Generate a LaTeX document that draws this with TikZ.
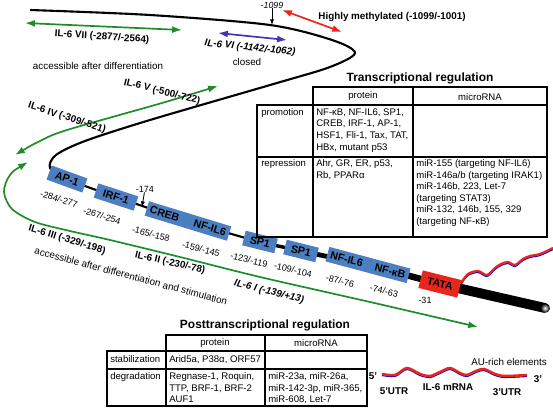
\documentclass[tikz,border=0pt]{standalone}
\usepackage{fontspec}
\setmainfont{Liberation Sans}
\usetikzlibrary{arrows.meta}
\definecolor{ilgreen}{RGB}{30,140,40}
\definecolor{ilred}{RGB}{232,38,30}
\definecolor{ilpurple}{RGB}{70,50,180}
\definecolor{ilblue}{RGB}{76,126,194}
\newdimen\pxu
\pxu=0.025cm

\begin{document}
\begin{tikzpicture}[x=0.025cm,y=-0.025cm,
	every node/.style={inner sep=0pt},
	siteb/.style={fill=ilblue,minimum height=15\pxu,font=\fontsize{7.6}{8}\selectfont\bfseries},
	posl/.style={font=\fontsize{6.4}{7}\selectfont},
	reg/.style={font=\fontsize{7}{8}\selectfont\bfseries},
	note/.style={font=\fontsize{7}{8}\selectfont},
	cell/.style={anchor=north west,align=left,font=\fontsize{6.8}{8.2}\selectfont},
	head/.style={font=\fontsize{6.8}{8.2}\selectfont},
	ttl/.style={font=\fontsize{8.5}{10}\selectfont\bfseries},
	tabline/.style={line width=0.85pt},
	twohead/.style={{Latex[length=7pt,width=5pt]}-{Latex[length=7pt,width=5pt]},line width=1.2pt}]
			\useasboundingbox (0,0) rectangle (553,408);
			\coordinate (ap1) at (67,179);
			\coordinate (irf1) at (116,197);
			\coordinate (creb) at (188,221);
			\coordinate (sp1a) at (260,242);
			\coordinate (sp1b) at (301,251);
			\coordinate (nf) at (368,265);
			\coordinate (tata) at (440,284);
			\coordinate (dnaend) at (545,308);
			\draw[line width=1.5pt] plot[smooth] coordinates {(30,10) (150,15) (270,25) (332,40) (355,53) (330,67) (277,83) (150,120) (85,141) (56,155) (50,168) (ap1) (irf1) (creb) (sp1a) (sp1b) (nf) (tata) (dnaend)};
			\draw[line width=2.4pt] (sp1a) -- (sp1b);
			\draw[line width=3.4pt] (sp1b) -- (nf);
			\draw[line width=4.6pt] (nf) -- (tata);
			\draw[line width=7pt,line cap=round] (tata) -- (dnaend);
			\shade[inner color=white,outer color=black] (dnaend) circle (4.5);
			\draw[blue!80!black,line width=0.8pt,shift={(0,1.5)}] plot[smooth] coordinates {(461,283) (468,274) (478,271) (487,275) (495,268) (501,264) (508,262) (515,265) (523,259) (530,256) (540,254) (553,248)};
			\draw[ilred,line width=1.6pt] plot[smooth] coordinates {(461,283) (468,274) (478,271) (487,275) (495,268) (501,264) (508,262) (515,265) (523,259) (530,256) (540,254) (553,248)};
			\node[siteb,minimum width=38\pxu,rotate=-20] (ap1b) at (ap1) {AP-1};
			\node[siteb,minimum width=42\pxu,rotate=-18] (irf1b) at (irf1) {IRF-1};
			\node[siteb,minimum width=86\pxu,rotate=-17] (crebb) at (creb) {CREB\hspace{11pt}NF-IL6};
			\node[siteb,minimum width=33\pxu,rotate=-14] (sp1ab) at (sp1a) {SP1};
			\node[siteb,minimum width=33\pxu,rotate=-14] (sp1bb) at (sp1b) {SP1};
			\node[siteb,minimum width=84\pxu,rotate=-15] (nfb) at (nf) {NF-IL6\hspace{9pt}NF-κB};
			\node[siteb,fill=ilred,minimum width=40\pxu,minimum height=18\pxu,rotate=-14] (tatab) at (tata) {TATA};
			\node[posl,rotate=-18] (p284) at (59,199) {-284/-277};
			\node[posl,rotate=-17] (p267) at (102,216) {-267/-254};
			\node[posl,rotate=-15] (p165) at (151,234) {-165/-158};
			\node[posl,rotate=-15] (p159) at (201,249) {-159/-145};
			\node[posl,rotate=-13] (p123) at (249,260) {-123/-119};
			\node[posl,rotate=-13] (p109) at (293,270) {-109/-104};
			\node[posl,rotate=-13] (p87) at (340,281) {-87/-76};
			\node[posl,rotate=-13] (p74) at (384,291) {-74/-63};
			\node[posl] (p31) at (425,300) {-31};
			\node[posl] (p174) at (145,189) {-174};
			\coordinate (p174tip) at (142,207);
			\draw[line width=0.6pt,-{Latex[length=4pt,width=3pt]}] (p174) -- (p174tip);
			\node[note,font=\fontsize{6.3}{7}\selectfont\itshape] (p1099) at (272,5) {-1099};
			\coordinate (p1099tip) at (272,25);
			\draw[line width=0.6pt,-{Latex[length=4pt,width=3pt]}] (p1099) -- (p1099tip);
			\coordinate (meth1) at (282,10);
			\coordinate (meth2) at (342,32);
			\draw[twohead,ilred] (meth1) -- (meth2);
			\node[reg] (methl) at (392,17) {Highly methylated (-1099/-1001)};
			\coordinate (vi1) at (218,33);
			\coordinate (vi2) at (287,40);
			\draw[twohead,ilpurple] (vi1) -- (vi2);
			\node[reg,font=\fontsize{7}{8}\selectfont\bfseries\itshape,rotate=-6] (vil) at (250,48) {IL-6 VI (-1142/-1062)};
			\node[note] (closed) at (247,62) {closed};
			\coordinate (vii1) at (25,23);
			\coordinate (vii2) at (182,30);
			\draw[twohead,ilgreen] (vii1) -- (vii2);
			\node[reg,rotate=-4] (viil) at (102,37) {IL-6 VII (-2877/-2564)};
			\node[note] (acc1) at (98,66) {accessible after differentiation};
			\draw[twohead,ilgreen] plot[smooth] coordinates {(15,155) (40,141) (67,130) (162,103) (218,86)};
			\node[reg,rotate=-18] (ivl) at (67,118) {IL-6 IV (-309/-521)};
			\node[reg,rotate=-14] (vl) at (162,92) {IL-6 V (-500/-722)};
			\draw[twohead,ilgreen] plot[smooth] coordinates {(28,162) (10,175) (4,192) (12,209) (35,222) (70,231) (110,240) (180,257) (260,277) (370,302) (478,327)};
			\node[reg,rotate=-17] (iiil) at (67,240) {IL-6 III (-329/-198)};
			\node[note,rotate=-15] (acc2) at (131,276) {accessible after differentiation and stimulation};
			\node[reg,rotate=-13] (iil) at (170,263) {IL-6 II (-230/-78)};
			\node[reg,font=\fontsize{7}{8}\selectfont\bfseries\itshape,rotate=-14] (il) at (269,292) {IL-6 I (-139/+13)};
			\node[ttl] (t1ttl) at (420,78) {Transcriptional regulation};
			\draw[tabline] (313,87) rectangle (547,105);
			\draw[tabline] (257,105) rectangle (547,237);
			\draw[tabline] (257,157) -- (547,157);
			\draw[tabline] (313,105) -- (313,237);
			\draw[tabline] (413,87) -- (413,237);
			\node[head] (t1prot) at (363,96) {protein};
			\node[head] (t1mir) at (480,97) {microRNA};
			\node[cell] (t1prom) at (261,108.5) {promotion};
			\node[cell] (t1promp) at (316,108.5) {NF-κB, NF-IL6, SP1,\\CREB, IRF-1, AP-1,\\HSF1, Fli-1, Tax, TAT,\\HBx, mutant p53};
			\node[cell] (t1rep) at (261,159.5) {repression};
			\node[cell] (t1repp) at (316,159.5) {Ahr, GR, ER, p53,\\Rb, PPARα};
			\node[cell] (t1repm) at (416,159.5) {miR-155 (targeting NF-IL6)\\miR-146a/b (targeting IRAK1)\\miR-146b, 223, Let-7\\(targeting STAT3)\\miR-132, 146b, 155, 329\\(targeting NF-κB)};
			\node[ttl] (t2ttl) at (265,325) {Posttranscriptional regulation};
			\draw[tabline] (166,335) rectangle (367,351);
			\draw[tabline] (107,351) rectangle (367,406);
			\draw[tabline] (107,369) -- (367,369);
			\draw[tabline] (166,351) -- (166,406);
			\draw[tabline] (265,335) -- (265,406);
			\node[head] (t2prot) at (215,343) {protein};
			\node[head] (t2mir) at (316,343) {microRNA};
			\node[cell] (t2stab) at (110,355.5) {stabilization};
			\node[cell] (t2stabp) at (169,355.5) {Arid5a, P38α, ORF57};
			\node[cell] (t2deg) at (110,372.5) {degradation};
			\node[cell] (t2degp) at (169,372.5) {Regnase-1, Roquin,\\TTP, BRF-1, BRF-2\\AUF1};
			\node[cell] (t2degm) at (268,372.5) {miR-23a, miR-26a,\\miR-142-3p, miR-365,\\miR-608, Let-7};
			\draw[blue!80!black,line width=0.8pt,shift={(0,1.5)}] plot[smooth] coordinates {(382,374) (395,375) (407,368) (420,374) (430,376) (440,372) (450,368) (460,373) (467,375) (476,371) (484,369) (495,374) (505,376) (527,375)};
			\draw[ilred,line width=1.8pt] plot[smooth] coordinates {(382,374) (395,375) (407,368) (420,374) (430,376) (440,372) (450,368) (460,373) (467,375) (476,371) (484,369) (495,374) (505,376) (527,375)};
			\node[reg] (m5) at (373,376) {5'};
			\node[reg] (m3) at (538,379) {3'};
			\node[reg] (m5utr) at (394,391) {5'UTR};
			\node[reg] (mrna) at (448,387) {IL-6 mRNA};
			\node[reg] (m3utr) at (507,392) {3'UTR};
			\node[note] (aurich) at (509,362) {AU-rich elements};
\end{tikzpicture}
\end{document}
